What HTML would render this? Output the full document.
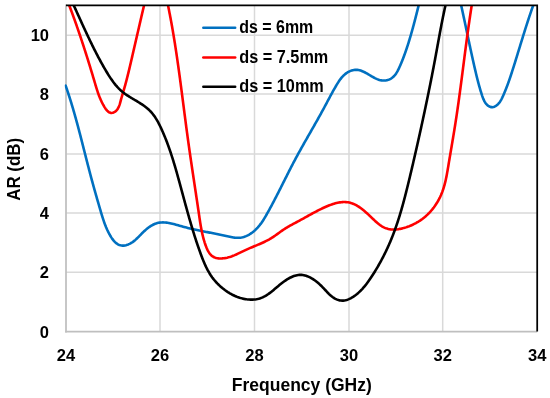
<!DOCTYPE html>
<html><head><meta charset="utf-8"><title>AR vs Frequency</title>
<style>
html,body{margin:0;padding:0;background:#fff;}
body{width:550px;height:398px;overflow:hidden;position:relative;}
svg{position:absolute;left:0;top:0;display:block;}
.g{stroke:#D9D9D9;stroke-width:1.5;}
.l{stroke-width:2.5;stroke-linecap:round;}
.c{fill:none;stroke-width:2.6;stroke-linejoin:round;stroke-linecap:round;}
text{font-family:'Liberation Sans',Arial,sans-serif;font-weight:bold;fill:#000;}
.t{font-size:16.5px;}
.ax{font-size:17.5px;}
.lg{font-size:17.5px;}
</style></head>
<body>
<svg width="550" height="398" viewBox="0 0 550 398">
<defs><clipPath id="pa"><rect x="64.7" y="5.3" width="472.5" height="326.3"/></clipPath></defs>
<line x1="66.0" y1="272.3" x2="537.2" y2="272.3" class="g"/>
<line x1="66.0" y1="213.1" x2="537.2" y2="213.1" class="g"/>
<line x1="66.0" y1="154.1" x2="537.2" y2="154.1" class="g"/>
<line x1="66.0" y1="94.1" x2="537.2" y2="94.1" class="g"/>
<line x1="66.0" y1="35.2" x2="537.2" y2="35.2" class="g"/>
<line x1="160.0" y1="5.3" x2="160.0" y2="331.6" class="g"/>
<line x1="254.5" y1="5.3" x2="254.5" y2="331.6" class="g"/>
<line x1="349.0" y1="5.3" x2="349.0" y2="331.6" class="g"/>
<line x1="442.7" y1="5.3" x2="442.7" y2="331.6" class="g"/>
<line x1="66.0" y1="4.5" x2="66.0" y2="332.4" stroke="#BFBFBF" stroke-width="1.75"/>
<line x1="65.2" y1="331.6" x2="537.2" y2="331.6" stroke="#BFBFBF" stroke-width="1.75"/>
<g clip-path="url(#pa)">
<path class="c" stroke="#0070C0" d="M65.63,85.64L66.03,86.77 66.42,87.91 66.81,89.04 67.19,90.18 67.58,91.32 67.96,92.46 68.33,93.60 68.70,94.74 69.07,95.88 69.44,97.02 69.80,98.16 70.16,99.31 70.52,100.45 70.87,101.59 71.22,102.74 71.57,103.89 71.92,105.03 72.26,106.18 72.60,107.33 72.94,108.48 73.28,109.63 73.61,110.78 73.95,111.93 74.28,113.08 74.60,114.23 74.93,115.38 75.25,116.54 75.58,117.69 75.90,118.84 76.21,120.00 76.53,121.15 76.85,122.31 77.16,123.46 77.47,124.62 77.78,125.77 78.09,126.93 78.40,128.09 78.70,129.25 79.01,130.40 79.31,131.56 79.62,132.72 79.92,133.88 80.22,135.04 80.52,136.20 80.82,137.36 81.12,138.52 81.42,139.68 81.71,140.84 82.01,142.00 82.31,143.16 82.60,144.32 82.90,145.48 83.19,146.64 83.49,147.80 83.78,148.96 84.08,150.12 84.37,151.28 84.67,152.45 84.96,153.61 85.26,154.77 85.55,155.93 85.85,157.09 86.14,158.25 86.44,159.41 86.74,160.57 87.03,161.74 87.33,162.90 87.63,164.06 87.93,165.22 88.23,166.38 88.53,167.54 88.83,168.70 89.13,169.86 89.43,171.02 89.74,172.18 90.04,173.34 90.35,174.50 90.66,175.66 90.97,176.82 91.28,177.98 91.59,179.14 91.90,180.29 92.22,181.45 92.53,182.61 92.85,183.77 93.17,184.92 93.49,186.08 93.81,187.23 94.13,188.39 94.45,189.55 94.78,190.70 95.10,191.85 95.43,193.01 95.75,194.16 96.08,195.31 96.41,196.46 96.74,197.61 97.07,198.77 97.40,199.91 97.73,201.06 98.06,202.21 98.40,203.36 98.73,204.51 99.06,205.65 99.40,206.80 99.73,207.94 100.07,209.09 100.41,210.23 100.74,211.37 101.08,212.52 101.42,213.66 101.76,214.80 102.11,215.93 102.46,217.07 102.82,218.21 103.19,219.34 103.56,220.47 103.95,221.60 104.34,222.73 104.75,223.85 105.18,224.98 105.62,226.10 106.07,227.22 106.55,228.33 107.04,229.45 107.56,230.56 108.09,231.66 108.65,232.76 109.23,233.86 109.84,234.96 110.47,236.05 111.13,237.11 111.82,238.16 112.54,239.16 113.28,240.13 114.06,241.04 114.87,241.90 115.71,242.68 116.59,243.40 117.50,244.03 118.44,244.57 119.42,245.00 120.44,245.34 121.50,245.55 122.59,245.64 123.73,245.61 124.88,245.45 126.05,245.19 127.21,244.84 128.36,244.41 129.48,243.91 130.56,243.35 131.59,242.74 132.59,242.08 133.55,241.38 134.49,240.64 135.40,239.87 136.29,239.07 137.16,238.25 138.03,237.40 138.88,236.54 139.74,235.67 140.59,234.79 141.45,233.91 142.33,233.03 143.21,232.16 144.12,231.30 145.04,230.45 145.98,229.63 146.94,228.82 147.92,228.05 148.91,227.30 149.91,226.60 150.93,225.94 151.97,225.32 153.02,224.75 154.08,224.24 155.15,223.79 156.24,223.40 157.33,223.08 158.44,222.83 159.56,222.64 160.69,222.51 161.82,222.44 162.96,222.42 164.12,222.45 165.27,222.53 166.44,222.64 167.60,222.80 168.78,222.99 169.95,223.22 171.14,223.47 172.32,223.74 173.51,224.04 174.69,224.35 175.88,224.67 177.07,225.01 178.26,225.34 179.44,225.69 180.63,226.03 181.81,226.36 182.99,226.69 184.17,227.00 185.34,227.31 186.51,227.61 187.68,227.90 188.85,228.19 190.01,228.47 191.17,228.74 192.33,229.00 193.49,229.27 194.65,229.52 195.81,229.77 196.97,230.02 198.12,230.26 199.28,230.50 200.44,230.74 201.59,230.98 202.75,231.21 203.91,231.45 205.06,231.68 206.22,231.91 207.38,232.14 208.55,232.38 209.71,232.61 210.87,232.85 212.04,233.09 213.21,233.33 214.38,233.57 215.56,233.82 216.74,234.07 217.92,234.33 219.10,234.58 220.28,234.84 221.47,235.09 222.66,235.35 223.85,235.60 225.04,235.85 226.23,236.10 227.42,236.34 228.61,236.58 229.80,236.81 230.99,237.03 232.18,237.24 233.37,237.43 234.55,237.59 235.73,237.71 236.91,237.79 238.08,237.81 239.25,237.78 240.41,237.68 241.56,237.50 242.70,237.25 243.83,236.94 244.95,236.57 246.06,236.13 247.15,235.64 248.22,235.10 249.27,234.51 250.31,233.88 251.32,233.20 252.30,232.48 253.26,231.73 254.20,230.95 255.10,230.14 255.98,229.31 256.82,228.45 257.64,227.57 258.44,226.67 259.20,225.75 259.95,224.82 260.67,223.87 261.38,222.90 262.06,221.92 262.73,220.92 263.38,219.92 264.02,218.91 264.65,217.88 265.26,216.85 265.87,215.81 266.47,214.77 267.06,213.73 267.65,212.68 268.23,211.63 268.81,210.58 269.39,209.53 269.97,208.48 270.54,207.42 271.11,206.37 271.68,205.31 272.24,204.25 272.80,203.19 273.36,202.13 273.92,201.07 274.47,200.01 275.02,198.95 275.57,197.89 276.12,196.82 276.67,195.76 277.21,194.69 277.76,193.63 278.30,192.56 278.84,191.49 279.38,190.43 279.92,189.36 280.46,188.29 281.00,187.22 281.54,186.15 282.07,185.08 282.61,184.02 283.15,182.95 283.68,181.88 284.22,180.81 284.76,179.74 285.29,178.67 285.83,177.60 286.37,176.54 286.91,175.47 287.45,174.40 287.99,173.33 288.53,172.27 289.07,171.20 289.61,170.13 290.16,169.07 290.70,168.00 291.25,166.94 291.80,165.88 292.35,164.81 292.91,163.75 293.46,162.69 294.02,161.63 294.58,160.57 295.15,159.52 295.71,158.46 296.28,157.40 296.85,156.35 297.42,155.30 298.00,154.24 298.57,153.19 299.15,152.14 299.73,151.09 300.31,150.04 300.90,148.99 301.48,147.94 302.07,146.90 302.66,145.85 303.24,144.80 303.83,143.76 304.42,142.71 305.02,141.67 305.61,140.62 306.20,139.58 306.80,138.54 307.39,137.49 307.98,136.45 308.58,135.41 309.17,134.37 309.77,133.33 310.37,132.28 310.96,131.24 311.56,130.20 312.15,129.16 312.74,128.12 313.34,127.08 313.93,126.04 314.52,124.99 315.11,123.95 315.70,122.91 316.29,121.87 316.88,120.83 317.47,119.79 318.06,118.74 318.64,117.70 319.22,116.66 319.81,115.61 320.38,114.57 320.96,113.53 321.54,112.48 322.11,111.43 322.68,110.39 323.25,109.34 323.82,108.30 324.39,107.25 324.95,106.20 325.51,105.15 326.07,104.10 326.63,103.05 327.18,102.00 327.74,100.95 328.30,99.90 328.86,98.85 329.42,97.80 329.98,96.75 330.55,95.70 331.12,94.64 331.69,93.59 332.27,92.54 332.85,91.49 333.44,90.44 334.03,89.39 334.63,88.34 335.23,87.30 335.84,86.25 336.46,85.20 337.09,84.16 337.73,83.12 338.39,82.08 339.06,81.06 339.75,80.06 340.47,79.08 341.21,78.13 341.99,77.20 342.80,76.31 343.64,75.45 344.53,74.64 345.46,73.87 346.43,73.15 347.43,72.49 348.46,71.89 349.51,71.35 350.59,70.89 351.69,70.50 352.80,70.19 353.92,69.97 355.05,69.83 356.17,69.80 357.30,69.86 358.42,70.02 359.53,70.26 360.65,70.59 361.76,70.98 362.86,71.44 363.97,71.95 365.07,72.51 366.17,73.10 367.26,73.72 368.36,74.35 369.45,75.00 370.54,75.65 371.64,76.29 372.73,76.91 373.82,77.51 374.92,78.08 376.02,78.61 377.13,79.10 378.24,79.53 379.36,79.89 380.48,80.18 381.62,80.40 382.77,80.53 383.93,80.56 385.08,80.50 386.24,80.35 387.37,80.11 388.48,79.78 389.55,79.36 390.58,78.85 391.55,78.25 392.47,77.57 393.33,76.82 394.14,76.00 394.90,75.11 395.62,74.17 396.30,73.18 396.94,72.14 397.55,71.07 398.13,69.98 398.68,68.86 399.21,67.72 399.73,66.58 400.23,65.43 400.71,64.29 401.19,63.16 401.66,62.03 402.11,60.90 402.56,59.78 403.00,58.66 403.43,57.54 403.85,56.43 404.26,55.31 404.67,54.20 405.07,53.09 405.46,51.98 405.85,50.86 406.23,49.75 406.61,48.63 406.98,47.52 407.35,46.40 407.71,45.27 408.08,44.15 408.43,43.02 408.79,41.88 409.14,40.75 409.49,39.61 409.83,38.46 410.17,37.32 410.51,36.17 410.85,35.02 411.18,33.87 411.51,32.71 411.84,31.56 412.17,30.40 412.49,29.24 412.81,28.08 413.13,26.92 413.44,25.75 413.76,24.59 414.07,23.42 414.38,22.26 414.68,21.09 414.99,19.92 415.29,18.75 415.59,17.59 415.89,16.42 416.19,15.25 416.48,14.09 416.78,12.92 417.07,11.75 417.36,10.59 417.65,9.43 417.94,8.27 418.22,7.10 418.51,5.95 418.79,4.79 419.07,3.63 419.35,2.48 419.64,1.33 419.91,0.18 420.19,-0.97"/>
<path class="c" stroke="#0070C0" d="M459.76,-0.93L460.02,0.22 460.28,1.36 460.54,2.51 460.79,3.66 461.05,4.82 461.31,5.97 461.56,7.13 461.82,8.29 462.07,9.45 462.32,10.61 462.58,11.78 462.83,12.94 463.08,14.11 463.33,15.28 463.58,16.45 463.84,17.62 464.09,18.79 464.34,19.97 464.59,21.14 464.84,22.31 465.09,23.49 465.34,24.67 465.59,25.84 465.83,27.02 466.08,28.20 466.33,29.38 466.58,30.56 466.83,31.74 467.08,32.92 467.33,34.10 467.58,35.28 467.83,36.46 468.08,37.64 468.33,38.81 468.58,39.99 468.83,41.17 469.08,42.35 469.33,43.53 469.58,44.70 469.83,45.88 470.08,47.06 470.34,48.23 470.59,49.40 470.84,50.58 471.10,51.75 471.35,52.92 471.60,54.09 471.86,55.25 472.12,56.42 472.37,57.58 472.63,58.75 472.89,59.91 473.15,61.07 473.41,62.23 473.67,63.38 473.93,64.54 474.19,65.69 474.45,66.84 474.72,67.99 474.98,69.13 475.25,70.27 475.51,71.41 475.78,72.55 476.05,73.69 476.33,74.83 476.60,75.96 476.88,77.10 477.16,78.24 477.45,79.38 477.74,80.53 478.04,81.67 478.35,82.82 478.66,83.98 478.97,85.13 479.30,86.30 479.63,87.47 479.97,88.64 480.31,89.83 480.67,91.02 481.04,92.22 481.41,93.43 481.80,94.64 482.20,95.86 482.63,97.07 483.08,98.26 483.56,99.42 484.09,100.54 484.65,101.62 485.27,102.63 485.94,103.58 486.68,104.44 487.48,105.22 488.36,105.90 489.30,106.47 490.30,106.89 491.34,107.13 492.38,107.17 493.42,107.01 494.46,106.66 495.47,106.14 496.44,105.49 497.38,104.72 498.26,103.85 499.09,102.92 499.84,101.93 500.52,100.90 501.14,99.83 501.72,98.75 502.26,97.65 502.77,96.53 503.27,95.42 503.76,94.30 504.24,93.19 504.71,92.07 505.17,90.95 505.63,89.84 506.07,88.72 506.51,87.60 506.94,86.48 507.36,85.36 507.77,84.24 508.18,83.11 508.58,81.99 508.98,80.87 509.37,79.74 509.76,78.62 510.14,77.49 510.52,76.37 510.89,75.24 511.26,74.11 511.63,72.98 512.00,71.85 512.36,70.72 512.73,69.58 513.09,68.45 513.45,67.32 513.81,66.18 514.16,65.04 514.52,63.91 514.88,62.77 515.23,61.63 515.59,60.49 515.94,59.35 516.29,58.21 516.65,57.07 517.00,55.92 517.35,54.78 517.70,53.64 518.05,52.49 518.41,51.35 518.76,50.21 519.11,49.06 519.46,47.92 519.81,46.77 520.16,45.63 520.51,44.48 520.86,43.34 521.21,42.19 521.57,41.05 521.92,39.90 522.27,38.76 522.63,37.61 522.98,36.47 523.34,35.32 523.69,34.18 524.05,33.03 524.41,31.89 524.77,30.74 525.13,29.60 525.49,28.46 525.85,27.32 526.21,26.18 526.58,25.03 526.95,23.89 527.32,22.75 527.69,21.62 528.06,20.48 528.43,19.34 528.81,18.20 529.18,17.07 529.56,15.93 529.94,14.80 530.33,13.67 530.71,12.54 531.10,11.41 531.49,10.28 531.88,9.15 532.28,8.02 532.68,6.90 533.08,5.77 533.48,4.65 533.88,3.53 534.29,2.41 534.70,1.29 535.12,0.18 535.53,-0.94"/>
<path class="c" stroke="#FF0000" d="M66.77,-0.96L67.20,0.14 67.64,1.25 68.07,2.37 68.50,3.48 68.92,4.59 69.35,5.71 69.77,6.82 70.20,7.94 70.62,9.06 71.04,10.17 71.45,11.29 71.87,12.42 72.28,13.54 72.70,14.66 73.11,15.78 73.52,16.91 73.92,18.03 74.33,19.16 74.74,20.29 75.14,21.41 75.54,22.54 75.94,23.67 76.34,24.80 76.73,25.93 77.13,27.07 77.52,28.20 77.92,29.33 78.31,30.46 78.70,31.60 79.09,32.73 79.47,33.87 79.86,35.01 80.24,36.14 80.62,37.28 81.00,38.42 81.38,39.56 81.76,40.70 82.14,41.83 82.52,42.97 82.89,44.12 83.26,45.26 83.63,46.40 84.01,47.54 84.37,48.68 84.74,49.82 85.11,50.96 85.47,52.11 85.84,53.25 86.20,54.39 86.56,55.54 86.93,56.68 87.28,57.82 87.64,58.97 88.00,60.11 88.36,61.26 88.71,62.40 89.07,63.55 89.42,64.69 89.77,65.83 90.12,66.98 90.47,68.12 90.82,69.27 91.17,70.41 91.52,71.56 91.86,72.70 92.21,73.85 92.55,74.99 92.89,76.14 93.23,77.28 93.58,78.42 93.92,79.57 94.25,80.71 94.59,81.85 94.93,83.00 95.27,84.14 95.61,85.28 95.95,86.42 96.29,87.56 96.65,88.70 97.00,89.84 97.37,90.97 97.75,92.11 98.14,93.24 98.54,94.37 98.95,95.50 99.38,96.62 99.83,97.74 100.30,98.86 100.79,99.97 101.30,101.08 101.83,102.19 102.38,103.29 102.96,104.39 103.57,105.48 104.21,106.57 104.88,107.64 105.58,108.69 106.31,109.68 107.09,110.59 107.90,111.38 108.75,112.04 109.65,112.54 110.59,112.85 111.58,112.95 112.62,112.82 113.68,112.46 114.72,111.92 115.68,111.22 116.53,110.41 117.28,109.49 117.93,108.49 118.50,107.42 119.00,106.28 119.44,105.10 119.84,103.88 120.20,102.65 120.54,101.41 120.86,100.17 121.19,98.95 121.52,97.76 121.85,96.58 122.18,95.42 122.52,94.28 122.85,93.14 123.18,92.01 123.52,90.89 123.85,89.77 124.17,88.65 124.50,87.53 124.82,86.41 125.14,85.28 125.45,84.14 125.76,83.00 126.07,81.86 126.37,80.71 126.67,79.56 126.97,78.40 127.27,77.25 127.56,76.09 127.85,74.92 128.14,73.76 128.43,72.59 128.71,71.42 128.99,70.25 129.27,69.08 129.55,67.91 129.83,66.73 130.11,65.56 130.38,64.38 130.65,63.21 130.93,62.03 131.20,60.86 131.47,59.68 131.75,58.51 132.02,57.34 132.29,56.16 132.56,54.99 132.83,53.82 133.10,52.65 133.37,51.48 133.64,50.31 133.91,49.14 134.18,47.98 134.45,46.81 134.72,45.64 134.99,44.48 135.26,43.31 135.52,42.15 135.79,40.98 136.06,39.82 136.33,38.65 136.60,37.49 136.87,36.32 137.14,35.16 137.40,34.00 137.67,32.83 137.94,31.67 138.21,30.51 138.48,29.34 138.75,28.18 139.01,27.01 139.28,25.85 139.55,24.69 139.82,23.52 140.09,22.36 140.36,21.20 140.63,20.03 140.90,18.87 141.17,17.70 141.44,16.53 141.71,15.37 141.98,14.20 142.25,13.04 142.53,11.87 142.80,10.70 143.07,9.53 143.34,8.36 143.62,7.19 143.89,6.02 144.16,4.85 144.44,3.68 144.71,2.51 144.99,1.33 145.26,0.16 145.54,-1.02"/>
<path class="c" stroke="#FF0000" d="M166.68,-0.98L166.93,0.20 167.19,1.37 167.43,2.55 167.68,3.72 167.92,4.90 168.17,6.07 168.41,7.25 168.64,8.42 168.88,9.60 169.11,10.78 169.34,11.95 169.57,13.13 169.80,14.31 170.03,15.49 170.25,16.66 170.47,17.84 170.69,19.02 170.91,20.20 171.13,21.38 171.34,22.56 171.56,23.74 171.77,24.92 171.98,26.10 172.19,27.28 172.39,28.46 172.60,29.64 172.80,30.82 173.00,32.00 173.20,33.18 173.40,34.36 173.60,35.54 173.79,36.72 173.99,37.91 174.18,39.09 174.37,40.27 174.56,41.45 174.75,42.64 174.94,43.82 175.12,45.00 175.31,46.19 175.49,47.37 175.67,48.55 175.85,49.74 176.03,50.92 176.21,52.10 176.39,53.29 176.57,54.47 176.74,55.66 176.92,56.84 177.09,58.03 177.26,59.21 177.43,60.40 177.60,61.58 177.77,62.77 177.94,63.95 178.11,65.14 178.28,66.32 178.44,67.51 178.61,68.70 178.77,69.88 178.94,71.07 179.10,72.25 179.26,73.44 179.42,74.63 179.59,75.81 179.75,77.00 179.91,78.19 180.07,79.37 180.22,80.56 180.38,81.75 180.54,82.94 180.70,84.12 180.85,85.31 181.01,86.50 181.17,87.69 181.32,88.87 181.48,90.06 181.63,91.25 181.79,92.44 181.94,93.62 182.10,94.81 182.25,96.00 182.40,97.19 182.56,98.38 182.71,99.56 182.87,100.75 183.02,101.94 183.17,103.13 183.33,104.32 183.48,105.51 183.63,106.69 183.79,107.88 183.94,109.07 184.09,110.26 184.25,111.45 184.40,112.64 184.55,113.82 184.71,115.01 184.86,116.20 185.02,117.39 185.17,118.58 185.33,119.77 185.48,120.95 185.64,122.14 185.79,123.33 185.95,124.52 186.11,125.71 186.26,126.90 186.42,128.08 186.58,129.27 186.74,130.46 186.90,131.65 187.06,132.84 187.22,134.02 187.38,135.21 187.54,136.40 187.70,137.59 187.86,138.78 188.03,139.96 188.19,141.15 188.36,142.34 188.52,143.53 188.69,144.72 188.86,145.90 189.02,147.09 189.19,148.28 189.36,149.46 189.53,150.65 189.70,151.84 189.87,153.03 190.04,154.21 190.22,155.40 190.39,156.59 190.56,157.77 190.73,158.96 190.91,160.15 191.08,161.33 191.26,162.52 191.43,163.71 191.61,164.89 191.78,166.08 191.96,167.26 192.13,168.45 192.31,169.64 192.49,170.82 192.66,172.01 192.84,173.19 193.02,174.38 193.19,175.56 193.37,176.75 193.55,177.93 193.73,179.12 193.91,180.30 194.08,181.49 194.26,182.67 194.44,183.86 194.62,185.04 194.80,186.22 194.97,187.41 195.15,188.59 195.33,189.77 195.51,190.96 195.69,192.14 195.87,193.32 196.04,194.51 196.22,195.69 196.40,196.87 196.57,198.06 196.75,199.24 196.93,200.42 197.11,201.60 197.28,202.78 197.46,203.97 197.63,205.15 197.81,206.33 197.98,207.51 198.16,208.69 198.33,209.87 198.51,211.05 198.68,212.23 198.85,213.41 199.03,214.59 199.20,215.77 199.37,216.95 199.54,218.13 199.72,219.31 199.89,220.49 200.08,221.67 200.26,222.85 200.45,224.03 200.64,225.21 200.84,226.38 201.05,227.56 201.27,228.74 201.49,229.92 201.73,231.09 201.97,232.27 202.23,233.45 202.50,234.62 202.78,235.80 203.07,236.97 203.38,238.15 203.70,239.33 204.04,240.50 204.40,241.67 204.77,242.85 205.17,244.02 205.58,245.20 206.01,246.37 206.46,247.53 206.95,248.67 207.46,249.79 208.01,250.87 208.60,251.91 209.24,252.90 209.92,253.82 210.66,254.68 211.45,255.45 212.29,256.14 213.21,256.74 214.18,257.23 215.21,257.64 216.29,257.95 217.41,258.19 218.57,258.35 219.75,258.43 220.96,258.45 222.19,258.40 223.43,258.29 224.68,258.13 225.92,257.91 227.16,257.65 228.38,257.35 229.58,257.02 230.76,256.65 231.92,256.25 233.05,255.83 234.17,255.39 235.28,254.92 236.37,254.44 237.45,253.94 238.52,253.43 239.58,252.92 240.64,252.40 241.70,251.88 242.76,251.35 243.83,250.84 244.90,250.33 245.97,249.83 247.06,249.33 248.15,248.85 249.25,248.37 250.35,247.90 251.46,247.44 252.57,246.97 253.68,246.51 254.79,246.05 255.91,245.59 257.02,245.13 258.13,244.66 259.24,244.19 260.35,243.71 261.45,243.23 262.54,242.73 263.63,242.23 264.71,241.72 265.79,241.19 266.86,240.65 267.91,240.10 268.96,239.53 269.99,238.94 271.01,238.33 272.02,237.70 273.01,237.06 274.00,236.39 274.97,235.72 275.95,235.03 276.91,234.34 277.88,233.64 278.85,232.94 279.81,232.24 280.79,231.54 281.77,230.85 282.76,230.16 283.75,229.49 284.77,228.83 285.79,228.18 286.83,227.54 287.88,226.92 288.93,226.31 290.00,225.71 291.07,225.12 292.14,224.53 293.21,223.95 294.29,223.38 295.36,222.81 296.43,222.24 297.50,221.67 298.56,221.11 299.61,220.54 300.65,219.98 301.69,219.41 302.72,218.84 303.74,218.28 304.76,217.71 305.78,217.14 306.80,216.57 307.81,216.01 308.83,215.44 309.84,214.88 310.86,214.32 311.89,213.76 312.91,213.20 313.94,212.64 314.98,212.09 316.03,211.54 317.08,210.99 318.14,210.44 319.22,209.90 320.30,209.36 321.40,208.83 322.51,208.29 323.63,207.77 324.76,207.25 325.91,206.75 327.06,206.25 328.23,205.77 329.40,205.31 330.57,204.87 331.75,204.46 332.93,204.06 334.12,203.70 335.31,203.36 336.49,203.06 337.68,202.79 338.86,202.56 340.04,202.37 341.22,202.22 342.39,202.11 343.55,202.05 344.70,202.04 345.84,202.09 346.98,202.18 348.10,202.33 349.21,202.54 350.30,202.81 351.39,203.13 352.46,203.51 353.52,203.93 354.56,204.40 355.60,204.92 356.62,205.47 357.64,206.07 358.64,206.70 359.64,207.37 360.62,208.06 361.60,208.79 362.56,209.54 363.52,210.31 364.47,211.10 365.42,211.91 366.35,212.74 367.28,213.57 368.20,214.42 369.12,215.27 370.03,216.13 370.93,216.99 371.83,217.85 372.73,218.70 373.62,219.55 374.50,220.39 375.39,221.21 376.28,222.01 377.18,222.80 378.09,223.56 379.01,224.29 379.94,224.98 380.89,225.65 381.86,226.26 382.85,226.84 383.87,227.37 384.91,227.84 385.99,228.26 387.10,228.62 388.23,228.93 389.39,229.17 390.56,229.36 391.74,229.49 392.94,229.56 394.13,229.57 395.33,229.52 396.51,229.42 397.70,229.27 398.88,229.09 400.06,228.87 401.24,228.63 402.41,228.36 403.58,228.06 404.74,227.73 405.90,227.38 407.05,227.00 408.19,226.60 409.33,226.17 410.45,225.71 411.56,225.23 412.67,224.73 413.76,224.20 414.84,223.65 415.91,223.08 416.97,222.48 418.01,221.87 419.03,221.23 420.04,220.57 421.03,219.89 422.01,219.19 422.97,218.46 423.91,217.72 424.83,216.96 425.74,216.19 426.62,215.39 427.49,214.58 428.34,213.74 429.18,212.90 429.99,212.03 430.79,211.15 431.56,210.25 432.32,209.34 433.06,208.41 433.79,207.47 434.49,206.52 435.17,205.55 435.84,204.56 436.48,203.57 437.11,202.56 437.71,201.54 438.30,200.51 438.87,199.46 439.41,198.41 439.94,197.35 440.45,196.27 440.94,195.19 441.40,194.10 441.85,192.99 442.28,191.89 442.68,190.77 443.07,189.64 443.44,188.51 443.80,187.37 444.14,186.23 444.46,185.07 444.77,183.92 445.07,182.76 445.35,181.59 445.62,180.42 445.88,179.24 446.13,178.06 446.38,176.88 446.61,175.70 446.84,174.51 447.06,173.32 447.27,172.13 447.48,170.93 447.68,169.74 447.89,168.55 448.09,167.35 448.29,166.16 448.48,164.96 448.68,163.77 448.88,162.58 449.08,161.39 449.28,160.20 449.48,159.01 449.68,157.82 449.88,156.64 450.08,155.45 450.28,154.27 450.48,153.08 450.68,151.90 450.88,150.71 451.08,149.53 451.28,148.35 451.48,147.17 451.68,145.99 451.88,144.81 452.08,143.63 452.28,142.45 452.47,141.27 452.67,140.09 452.87,138.91 453.07,137.73 453.26,136.56 453.46,135.38 453.65,134.20 453.85,133.02 454.04,131.84 454.23,130.67 454.42,129.49 454.61,128.31 454.80,127.13 454.99,125.95 455.18,124.77 455.36,123.59 455.55,122.41 455.73,121.23 455.91,120.05 456.09,118.87 456.27,117.69 456.45,116.51 456.63,115.33 456.81,114.15 456.98,112.96 457.16,111.78 457.33,110.60 457.50,109.41 457.67,108.23 457.84,107.05 458.01,105.86 458.18,104.68 458.35,103.49 458.51,102.31 458.68,101.12 458.84,99.94 459.01,98.75 459.17,97.56 459.33,96.38 459.49,95.19 459.66,94.00 459.82,92.82 459.98,91.63 460.13,90.44 460.29,89.25 460.45,88.07 460.61,86.88 460.77,85.69 460.92,84.50 461.08,83.31 461.24,82.12 461.39,80.93 461.55,79.75 461.70,78.56 461.86,77.37 462.01,76.18 462.16,74.99 462.32,73.80 462.47,72.61 462.62,71.42 462.78,70.23 462.93,69.04 463.08,67.85 463.24,66.66 463.39,65.47 463.54,64.28 463.70,63.09 463.85,61.90 464.00,60.71 464.16,59.52 464.31,58.33 464.46,57.14 464.62,55.95 464.77,54.76 464.92,53.57 465.08,52.38 465.23,51.19 465.39,50.00 465.54,48.82 465.70,47.63 465.86,46.44 466.01,45.25 466.17,44.06 466.33,42.87 466.49,41.68 466.64,40.49 466.80,39.30 466.96,38.12 467.12,36.93 467.28,35.74 467.45,34.55 467.61,33.37 467.77,32.18 467.94,30.99 468.10,29.80 468.27,28.62 468.43,27.43 468.60,26.24 468.77,25.06 468.94,23.87 469.11,22.69 469.28,21.50 469.45,20.32 469.62,19.13 469.80,17.95 469.97,16.76 470.15,15.58 470.32,14.40 470.50,13.21 470.68,12.03 470.86,10.85 471.04,9.67 471.23,8.48 471.41,7.30 471.60,6.12 471.79,4.94 471.97,3.76 472.16,2.58 472.36,1.40 472.55,0.22 472.74,-0.96"/>
<path class="c" stroke="#000000" d="M70.83,-0.94L71.34,0.15 71.85,1.25 72.35,2.34 72.85,3.43 73.35,4.52 73.85,5.61 74.35,6.71 74.85,7.80 75.35,8.89 75.85,9.98 76.35,11.08 76.85,12.17 77.34,13.26 77.84,14.35 78.34,15.45 78.83,16.54 79.33,17.63 79.83,18.72 80.32,19.81 80.82,20.90 81.32,22.00 81.82,23.09 82.32,24.18 82.81,25.27 83.32,26.35 83.82,27.44 84.32,28.53 84.82,29.62 85.33,30.70 85.83,31.79 86.34,32.88 86.85,33.96 87.36,35.05 87.87,36.13 88.38,37.21 88.90,38.29 89.41,39.37 89.93,40.45 90.45,41.53 90.97,42.61 91.50,43.69 92.03,44.76 92.55,45.84 93.09,46.91 93.62,47.98 94.16,49.06 94.70,50.13 95.24,51.19 95.79,52.26 96.34,53.33 96.89,54.39 97.44,55.46 98.00,56.52 98.56,57.58 99.13,58.64 99.69,59.70 100.27,60.75 100.84,61.81 101.42,62.86 102.01,63.91 102.59,64.96 103.18,66.01 103.78,67.06 104.38,68.10 104.98,69.14 105.59,70.19 106.21,71.22 106.83,72.26 107.45,73.29 108.08,74.32 108.72,75.34 109.37,76.36 110.03,77.37 110.69,78.37 111.37,79.36 112.06,80.34 112.76,81.31 113.47,82.27 114.20,83.21 114.94,84.14 115.69,85.06 116.46,85.96 117.25,86.85 118.06,87.72 118.88,88.57 119.72,89.40 120.58,90.21 121.46,91.00 122.36,91.77 123.29,92.52 124.23,93.24 125.19,93.95 126.17,94.63 127.17,95.30 128.18,95.96 129.20,96.61 130.23,97.25 131.27,97.88 132.31,98.50 133.36,99.12 134.41,99.75 135.46,100.37 136.51,100.99 137.55,101.62 138.59,102.25 139.63,102.89 140.65,103.54 141.67,104.20 142.67,104.87 143.65,105.56 144.63,106.26 145.58,106.98 146.52,107.71 147.43,108.47 148.32,109.25 149.19,110.05 150.03,110.88 150.84,111.73 151.63,112.61 152.39,113.51 153.12,114.44 153.83,115.38 154.52,116.35 155.19,117.34 155.83,118.34 156.46,119.36 157.07,120.39 157.67,121.44 158.24,122.49 158.81,123.56 159.36,124.64 159.90,125.72 160.42,126.81 160.94,127.91 161.45,129.01 161.95,130.11 162.44,131.21 162.93,132.31 163.41,133.42 163.88,134.53 164.35,135.64 164.81,136.75 165.26,137.87 165.71,138.98 166.15,140.10 166.58,141.22 167.01,142.34 167.44,143.47 167.85,144.59 168.27,145.72 168.67,146.84 169.07,147.97 169.47,149.10 169.86,150.24 170.25,151.37 170.63,152.50 171.01,153.64 171.38,154.78 171.75,155.92 172.12,157.06 172.48,158.20 172.84,159.34 173.19,160.48 173.54,161.63 173.89,162.77 174.24,163.92 174.58,165.07 174.92,166.21 175.26,167.36 175.59,168.51 175.92,169.66 176.25,170.82 176.58,171.97 176.91,173.12 177.23,174.27 177.55,175.43 177.87,176.58 178.19,177.74 178.51,178.89 178.83,180.05 179.15,181.21 179.46,182.36 179.78,183.52 180.09,184.68 180.41,185.84 180.72,187.00 181.04,188.15 181.35,189.31 181.66,190.47 181.98,191.63 182.29,192.79 182.60,193.95 182.92,195.11 183.23,196.27 183.54,197.43 183.86,198.59 184.17,199.75 184.49,200.91 184.80,202.07 185.12,203.23 185.43,204.38 185.75,205.54 186.07,206.70 186.39,207.86 186.71,209.02 187.03,210.18 187.35,211.33 187.67,212.49 187.99,213.65 188.32,214.80 188.65,215.96 188.97,217.12 189.30,218.27 189.63,219.43 189.97,220.58 190.30,221.73 190.64,222.89 190.98,224.04 191.32,225.19 191.66,226.34 192.00,227.49 192.35,228.64 192.70,229.79 193.05,230.94 193.40,232.08 193.75,233.23 194.11,234.38 194.47,235.52 194.83,236.66 195.20,237.81 195.57,238.95 195.94,240.09 196.31,241.23 196.69,242.36 197.07,243.50 197.45,244.64 197.84,245.77 198.23,246.91 198.62,248.04 199.02,249.17 199.42,250.30 199.82,251.43 200.23,252.56 200.64,253.68 201.05,254.81 201.47,255.93 201.89,257.05 202.32,258.17 202.76,259.28 203.20,260.39 203.66,261.49 204.12,262.59 204.59,263.69 205.08,264.78 205.58,265.86 206.09,266.94 206.61,268.00 207.15,269.06 207.70,270.12 208.27,271.16 208.86,272.19 209.46,273.21 210.09,274.22 210.73,275.23 211.40,276.21 212.08,277.19 212.79,278.16 213.52,279.11 214.28,280.04 215.05,280.97 215.86,281.87 216.68,282.77 217.52,283.64 218.39,284.50 219.27,285.34 220.16,286.17 221.08,286.98 222.00,287.76 222.94,288.53 223.90,289.28 224.86,290.01 225.84,290.71 226.82,291.40 227.81,292.06 228.82,292.70 229.83,293.31 230.86,293.90 231.89,294.47 232.94,295.01 234.01,295.52 235.08,296.01 236.17,296.47 237.27,296.91 238.39,297.31 239.53,297.69 240.67,298.03 241.84,298.35 243.02,298.63 244.22,298.88 245.43,299.10 246.65,299.29 247.87,299.43 249.10,299.54 250.33,299.61 251.55,299.63 252.77,299.61 253.98,299.55 255.17,299.43 256.35,299.27 257.51,299.05 258.65,298.78 259.76,298.46 260.85,298.08 261.92,297.66 262.97,297.20 264.00,296.69 265.01,296.14 266.01,295.55 267.00,294.93 267.98,294.28 268.94,293.60 269.90,292.90 270.85,292.17 271.80,291.43 272.74,290.67 273.68,289.89 274.62,289.10 275.56,288.31 276.51,287.51 277.46,286.71 278.41,285.91 279.38,285.11 280.35,284.32 281.33,283.53 282.33,282.76 283.33,282.01 284.34,281.27 285.36,280.56 286.40,279.87 287.44,279.22 288.48,278.59 289.54,278.01 290.60,277.46 291.68,276.95 292.75,276.50 293.84,276.09 294.93,275.73 296.02,275.43 297.13,275.20 298.23,275.02 299.35,274.91 300.46,274.88 301.58,274.91 302.71,275.02 303.84,275.21 304.96,275.47 306.09,275.80 307.21,276.19 308.32,276.64 309.42,277.14 310.51,277.69 311.59,278.28 312.64,278.91 313.68,279.58 314.70,280.28 315.69,281.00 316.65,281.75 317.60,282.52 318.52,283.31 319.42,284.12 320.31,284.95 321.19,285.80 322.06,286.66 322.91,287.54 323.77,288.44 324.61,289.35 325.46,290.26 326.31,291.18 327.16,292.09 328.02,292.98 328.89,293.86 329.78,294.71 330.68,295.53 331.60,296.30 332.54,297.03 333.51,297.71 334.50,298.33 335.52,298.89 336.57,299.37 337.65,299.78 338.75,300.11 339.86,300.36 340.98,300.53 342.11,300.61 343.25,300.60 344.39,300.49 345.52,300.29 346.65,300.00 347.76,299.62 348.87,299.17 349.96,298.66 351.03,298.09 352.09,297.48 353.12,296.83 354.13,296.15 355.11,295.45 356.07,294.72 357.01,293.97 357.93,293.19 358.82,292.40 359.70,291.58 360.56,290.75 361.40,289.89 362.22,289.02 363.02,288.13 363.81,287.23 364.59,286.31 365.35,285.38 366.09,284.43 366.83,283.47 367.55,282.51 368.26,281.53 368.96,280.55 369.65,279.55 370.33,278.56 371.00,277.55 371.67,276.54 372.33,275.53 372.98,274.51 373.63,273.50 374.27,272.48 374.91,271.45 375.54,270.42 376.16,269.39 376.78,268.36 377.39,267.33 377.99,266.29 378.59,265.25 379.19,264.20 379.77,263.16 380.35,262.11 380.93,261.05 381.50,260.00 382.06,258.94 382.62,257.88 383.17,256.82 383.72,255.75 384.26,254.68 384.79,253.61 385.32,252.54 385.84,251.46 386.36,250.38 386.87,249.30 387.37,248.21 387.87,247.13 388.36,246.04 388.85,244.95 389.33,243.85 389.81,242.75 390.28,241.66 390.74,240.55 391.20,239.45 391.65,238.34 392.09,237.23 392.53,236.12 392.97,235.01 393.40,233.89 393.82,232.77 394.24,231.65 394.65,230.53 395.06,229.41 395.46,228.28 395.86,227.15 396.26,226.02 396.64,224.89 397.03,223.75 397.41,222.62 397.78,221.48 398.15,220.34 398.52,219.20 398.88,218.06 399.24,216.91 399.59,215.77 399.94,214.62 400.29,213.47 400.63,212.32 400.97,211.17 401.31,210.02 401.64,208.86 401.97,207.71 402.30,206.55 402.62,205.39 402.94,204.24 403.26,203.08 403.57,201.92 403.88,200.76 404.19,199.59 404.50,198.43 404.81,197.27 405.11,196.11 405.41,194.94 405.71,193.78 406.00,192.61 406.30,191.44 406.59,190.28 406.88,189.11 407.17,187.94 407.46,186.78 407.75,185.61 408.03,184.44 408.32,183.27 408.60,182.10 408.88,180.94 409.16,179.77 409.45,178.60 409.73,177.43 410.01,176.26 410.28,175.09 410.56,173.93 410.84,172.76 411.12,171.59 411.39,170.42 411.67,169.25 411.94,168.09 412.22,166.92 412.49,165.75 412.77,164.58 413.04,163.42 413.31,162.25 413.58,161.08 413.85,159.91 414.12,158.74 414.39,157.58 414.66,156.41 414.93,155.24 415.20,154.07 415.46,152.90 415.73,151.74 416.00,150.57 416.26,149.40 416.53,148.23 416.79,147.06 417.06,145.89 417.32,144.72 417.58,143.56 417.85,142.39 418.11,141.22 418.37,140.05 418.63,138.88 418.89,137.71 419.15,136.54 419.41,135.37 419.67,134.20 419.93,133.03 420.18,131.86 420.44,130.69 420.70,129.52 420.96,128.35 421.21,127.18 421.47,126.01 421.72,124.84 421.98,123.66 422.23,122.49 422.49,121.32 422.74,120.15 422.99,118.98 423.24,117.80 423.50,116.63 423.75,115.46 424.00,114.28 424.25,113.11 424.50,111.94 424.75,110.76 425.00,109.59 425.25,108.41 425.49,107.24 425.74,106.07 425.99,104.89 426.23,103.72 426.48,102.54 426.72,101.37 426.97,100.19 427.21,99.02 427.46,97.84 427.70,96.66 427.94,95.49 428.18,94.31 428.42,93.14 428.66,91.96 428.90,90.78 429.14,89.61 429.38,88.43 429.62,87.25 429.86,86.08 430.09,84.90 430.33,83.72 430.56,82.55 430.80,81.37 431.03,80.19 431.26,79.01 431.50,77.84 431.73,76.66 431.96,75.48 432.19,74.30 432.42,73.12 432.65,71.95 432.87,70.77 433.10,69.59 433.33,68.41 433.55,67.23 433.78,66.05 434.00,64.87 434.22,63.70 434.45,62.52 434.67,61.34 434.89,60.16 435.11,58.98 435.33,57.80 435.54,56.62 435.76,55.44 435.98,54.26 436.19,53.08 436.41,51.90 436.63,50.72 436.84,49.55 437.06,48.37 437.27,47.19 437.49,46.01 437.70,44.83 437.92,43.65 438.13,42.47 438.35,41.29 438.56,40.11 438.78,38.93 439.00,37.76 439.21,36.58 439.43,35.40 439.65,34.22 439.87,33.04 440.09,31.86 440.31,30.69 440.53,29.51 440.76,28.33 440.98,27.15 441.21,25.98 441.43,24.80 441.66,23.62 441.89,22.45 442.13,21.27 442.36,20.09 442.59,18.92 442.83,17.74 443.07,16.57 443.31,15.39 443.55,14.22 443.80,13.04 444.04,11.87 444.29,10.70 444.55,9.52 444.80,8.35 445.06,7.18 445.31,6.00 445.58,4.83 445.84,3.66 446.11,2.49 446.38,1.32 446.65,0.15 446.93,-1.02"/>
</g>
<polyline points="66.0,5.3 537.2,5.3 537.2,331.6" fill="none" stroke="#000" stroke-width="1.75"/>
<text x="49" y="337.6" text-anchor="end" class="t">0</text>
<text x="49" y="278.3" text-anchor="end" class="t">2</text>
<text x="49" y="219.1" text-anchor="end" class="t">4</text>
<text x="49" y="160.1" text-anchor="end" class="t">6</text>
<text x="49" y="100.1" text-anchor="end" class="t">8</text>
<text x="49" y="41.2" text-anchor="end" class="t">10</text>
<text x="66.0" y="361.3" text-anchor="middle" class="t">24</text>
<text x="160.0" y="361.3" text-anchor="middle" class="t">26</text>
<text x="254.5" y="361.3" text-anchor="middle" class="t">28</text>
<text x="349.0" y="361.3" text-anchor="middle" class="t">30</text>
<text x="442.7" y="361.3" text-anchor="middle" class="t">32</text>
<text x="537.2" y="361.3" text-anchor="middle" class="t">34</text>
<text x="301.8" y="390.5" text-anchor="middle" class="ax">Frequency (GHz)</text>
<text transform="translate(20,169.3) rotate(-90)" text-anchor="middle" class="ax" textLength="63" lengthAdjust="spacingAndGlyphs">AR (dB)</text>
<line x1="203.3" y1="27.7" x2="235.2" y2="27.7" class="l" stroke="#0070C0"/>
<line x1="203.3" y1="57.5" x2="235.2" y2="57.5" class="l" stroke="#FF0000"/>
<line x1="203.3" y1="86.7" x2="235.2" y2="86.7" class="l" stroke="#000000"/>
<text x="239.3" y="32.5" class="lg" textLength="74" lengthAdjust="spacingAndGlyphs">ds = 6mm</text>
<text x="239.3" y="62.5" class="lg" textLength="89" lengthAdjust="spacingAndGlyphs">ds = 7.5mm</text>
<text x="239.3" y="92.3" class="lg" textLength="84.5" lengthAdjust="spacingAndGlyphs">ds = 10mm</text>
</svg>
</body></html>
